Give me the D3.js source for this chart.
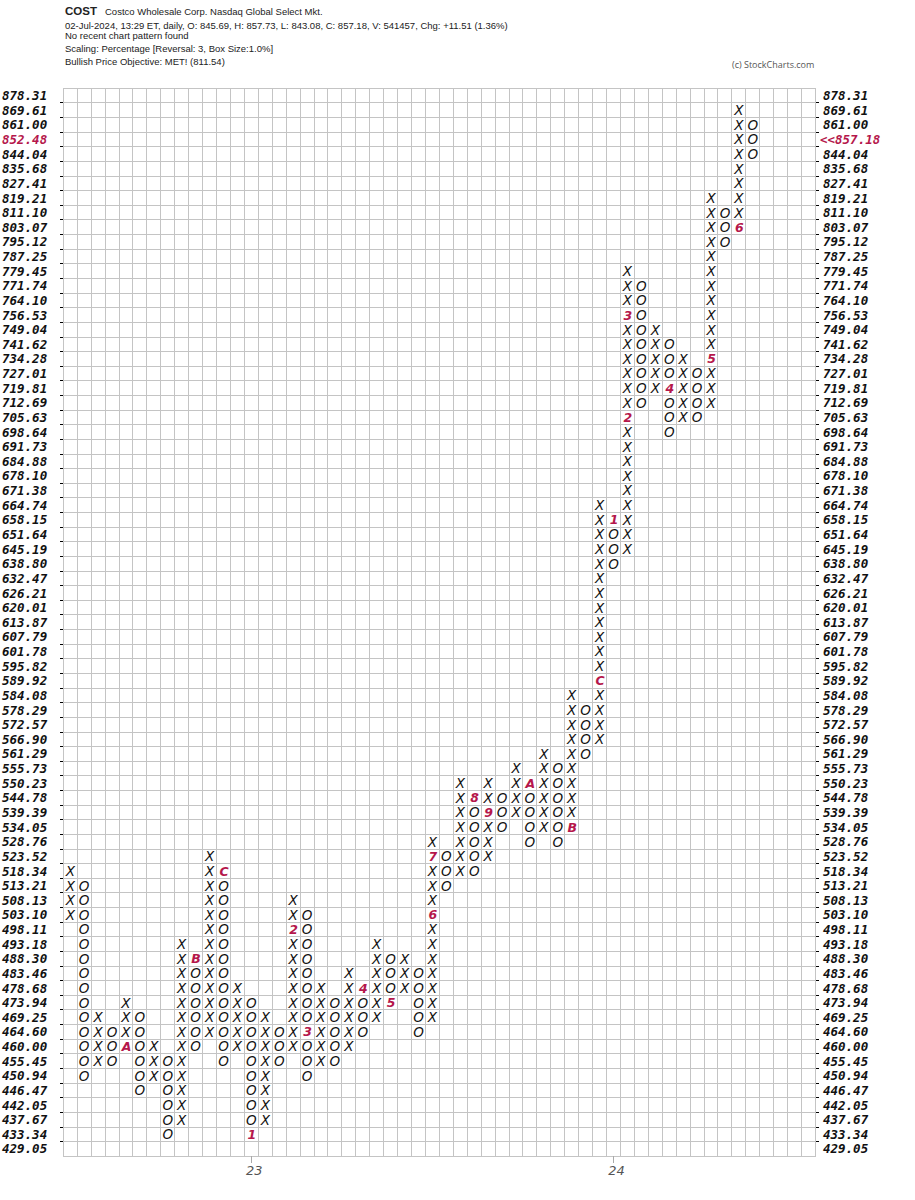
<!DOCTYPE html>
<html>
<head>
<meta charset="utf-8">
<script src="https://cdn.jsdelivr.net/npm/d3@7"></script>
<style>
  html, body { margin: 0; padding: 0; background: #fff; }
  svg { display: block; }
</style>
</head>
<body>
<svg id="chart" width="915" height="1200"></svg>
<script>
// ---------- DATA ----------
const priceLevels = [
  878.31, 869.61, 861.00, 852.48, 844.04, 835.68, 827.41, 819.21, 811.10, 803.07,
  795.12, 787.25, 779.45, 771.74, 764.10, 756.53, 749.04, 741.62, 734.28, 727.01,
  719.81, 712.69, 705.63, 698.64, 691.73, 684.88, 678.10, 671.38, 664.74, 658.15,
  651.64, 645.19, 638.80, 632.47, 626.21, 620.01, 613.87, 607.79, 601.78, 595.82,
  589.92, 584.08, 578.29, 572.57, 566.90, 561.29, 555.73, 550.23, 544.78, 539.39,
  534.05, 528.76, 523.52, 518.34, 513.21, 508.13, 503.10, 498.11, 493.18, 488.30,
  483.46, 478.68, 473.94, 469.25, 464.60, 460.00, 455.45, 450.94, 446.47, 442.05,
  437.67, 433.34, 429.05
];

// one entry per P&F column
const columnTypes = ["X","O","X","O","X","O","X","O","X","O",
                     "X","O","X","O","X","O","X","O","X","O",
                     "X","O","X","O","X","O","X","O","X","O",
                     "X","O","X","O","X","O","X","O","X","O",
                     "X","O","X","O","X","O","X","O","X","O"];
const columnLow  = [503.10, 450.94, 455.45, 455.45, 460.00, 446.47, 450.94, 433.34, 437.67, 460.00,
                    464.60, 455.45, 460.00, 433.34, 437.67, 455.45, 460.00, 450.94, 455.45, 455.45,
                    460.00, 464.60, 469.25, 473.94, 478.68, 464.60, 469.25, 513.21, 518.34, 518.34,
                    523.52, 534.05, 539.39, 528.76, 534.05, 528.76, 534.05, 561.29, 566.90, 638.80,
                    645.19, 712.69, 719.81, 698.64, 705.63, 705.63, 712.69, 795.12, 803.07, 844.04];
const columnHigh = [518.34, 513.21, 469.25, 464.60, 473.94, 469.25, 460.00, 455.45, 493.18, 488.30,
                    523.52, 518.34, 478.68, 473.94, 469.25, 464.60, 508.13, 503.10, 478.68, 473.94,
                    483.46, 478.68, 493.18, 488.30, 488.30, 483.46, 528.76, 523.52, 550.23, 544.78,
                    550.23, 544.78, 555.73, 550.23, 561.29, 555.73, 584.08, 578.29, 664.74, 658.15,
                    779.45, 771.74, 749.04, 741.62, 734.28, 727.01, 819.21, 811.10, 869.61, 861.00];

// month markers (replace a box with month code)
const markColumns = [4, 9, 11, 13, 16, 17, 21, 23, 26, 26, 29, 30, 33, 36, 38, 39, 40, 40, 43, 46, 48];
const markPrices  = [460.00, 488.30, 518.34, 433.34, 498.11, 464.60, 478.68, 473.94, 503.10, 523.52,
                     544.78, 539.39, 550.23, 534.05, 589.92, 658.15, 705.63, 756.53, 719.81, 734.28, 803.07];
const markLabels  = ["A","B","C","1","2","3","4","5","6","7","8","9","A","B","C","1","2","3","4","5","6"];

// year ticks on the x axis
const yearColumns = [13, 39];
const yearLabels  = ["23", "24"];

const lastPriceLevel = 852.48;
const lastPriceText = "<<857.18";

const headerLines = [
  "02-Jul-2024, 13:29 ET, daily, O: 845.69, H: 857.73, L: 843.08, C: 857.18, V: 541457, Chg: +11.51 (1.36%)",
  "No recent chart pattern found",
  "Scaling: Percentage [Reversal: 3, Box Size:1.0%]",
  "Bullish Price Objective: MET! (811.54)"
];

// ---------- LAYOUT ----------
const nCols = 54;
const gridLeft = 63.3, gridRight = 815.5, gridTop = 88.3, gridBottom = 1156.3;
const RED = "#b5174b";

const svg = d3.select("#chart");

const x = d3.scaleBand().domain(d3.range(nCols)).range([gridLeft, gridRight]).paddingInner(0).paddingOuter(0);
const y = d3.scaleBand().domain(priceLevels).range([gridTop, gridBottom]).paddingInner(0).paddingOuter(0);
const cx = i => x(i) + x.bandwidth() / 2;
const cy = p => y(p) + y.bandwidth() / 2;

// ---------- GRID ----------
const grid = svg.append("g").attr("shape-rendering", "crispEdges");
const vLines = d3.range(nCols + 1).map(i => gridLeft + i * x.bandwidth());
const hLines = d3.range(priceLevels.length + 1).map(i => gridTop + i * y.bandwidth());

grid.selectAll("line.v").data(vLines).join("line")
  .attr("x1", d => d).attr("x2", d => d)
  .attr("y1", gridTop).attr("y2", gridBottom)
  .attr("stroke", "#c4c4c4").attr("stroke-width", 1);
grid.selectAll("line.h").data(hLines).join("line")
  .attr("x1", gridLeft).attr("x2", gridRight)
  .attr("y1", d => d).attr("y2", d => d)
  .attr("stroke", "#c4c4c4").attr("stroke-width", 1);

// small axis ticks at row boundaries
const tickRows = hLines.slice(1, -1);
grid.selectAll("line.tl").data(tickRows).join("line")
  .attr("x1", gridLeft - 3).attr("x2", gridLeft)
  .attr("y1", d => d).attr("y2", d => d)
  .attr("stroke", "#000");
grid.selectAll("line.tr").data(tickRows).join("line")
  .attr("x1", gridRight).attr("x2", gridRight + 3)
  .attr("y1", d => d).attr("y2", d => d)
  .attr("stroke", "#000");

// ---------- PRICE LABELS ----------
const labelFont = "'DejaVu Sans Mono', monospace";
svg.append("g").selectAll("text").data(priceLevels).join("text")
  .attr("x", 2).attr("y", d => cy(d)).attr("dy", "0.36em")
  .attr("font-family", labelFont).attr("font-weight", "bold").attr("font-style", "italic")
  .attr("font-size", 12.5)
  .attr("fill", d => d === lastPriceLevel ? RED : "#111")
  .text(d => d.toFixed(2));

svg.append("g").selectAll("text").data(priceLevels).join("text")
  .attr("x", d => d === lastPriceLevel ? 820 : 823).attr("y", d => cy(d)).attr("dy", "0.36em")
  .attr("font-family", labelFont).attr("font-weight", "bold").attr("font-style", "italic")
  .attr("font-size", 12.5)
  .attr("fill", d => d === lastPriceLevel ? RED : "#111")
  .text(d => d === lastPriceLevel ? lastPriceText : d.toFixed(2));

// ---------- X / O BOXES ----------
const markKey = new Set(markColumns.map((c, i) => c + "|" + markPrices[i]));
const boxes = [];
columnTypes.forEach((t, i) => {
  const hiIdx = priceLevels.indexOf(columnHigh[i]);
  const loIdx = priceLevels.indexOf(columnLow[i]);
  for (let k = hiIdx; k <= loIdx; k++) {
    const p = priceLevels[k];
    if (!markKey.has(i + "|" + p)) boxes.push({ col: i, price: p, t });
  }
});

svg.append("g").selectAll("text").data(boxes).join("text")
  .attr("x", d => cx(d.col)).attr("y", d => cy(d.price)).attr("dy", "0.36em")
  .attr("text-anchor", "middle")
  .attr("font-family", "'DejaVu Sans', sans-serif").attr("font-style", "italic")
  .attr("font-size", 13.5).attr("fill", "#111")
  .text(d => d.t);

const marks = markColumns.map((c, i) => ({ col: c, price: markPrices[i], label: markLabels[i] }));
svg.append("g").selectAll("text").data(marks).join("text")
  .attr("x", d => cx(d.col) + 0.5).attr("y", d => cy(d.price)).attr("dy", "0.36em")
  .attr("text-anchor", "middle")
  .attr("font-family", "'DejaVu Sans', sans-serif").attr("font-style", "italic").attr("font-weight", "bold")
  .attr("font-size", 12.5).attr("fill", RED)
  .text(d => d.label);

// ---------- X AXIS (years) ----------
const yearG = svg.append("g");
yearColumns.forEach((c, i) => {
  yearG.append("line")
    .attr("x1", cx(c)).attr("x2", cx(c))
    .attr("y1", gridBottom).attr("y2", gridBottom + 7)
    .attr("stroke", "#aaa").attr("shape-rendering", "crispEdges");
  yearG.append("text")
    .attr("x", cx(c) + 3).attr("y", gridBottom + 19)
    .attr("text-anchor", "middle")
    .attr("font-family", "'DejaVu Sans', sans-serif").attr("font-style", "italic")
    .attr("font-size", 13).attr("fill", "#555")
    .text(yearLabels[i]);
});

// ---------- HEADER ----------
const hdr = svg.append("g").attr("font-family", "'Liberation Sans', Arial, sans-serif").attr("fill", "#222");
hdr.append("text").attr("x", 65).attr("y", 15).attr("font-weight", "bold").attr("font-size", 11.5).text("COST");
hdr.append("text").attr("x", 105).attr("y", 15).attr("font-size", 9.5).text("Costco Wholesale Corp.  Nasdaq Global Select Mkt.");
const hdrY = [28.5, 38.8, 52, 65.3];
headerLines.forEach((t, i) => {
  hdr.append("text").attr("x", 65).attr("y", hdrY[i]).attr("font-size", 9.5).text(t);
});
svg.append("text").attr("x", 732).attr("y", 67.5)
  .attr("font-family", "'Open Sans', 'DejaVu Sans', sans-serif").attr("font-size", 9)
  .attr("fill", "#555").text("(c) StockCharts.com");
</script>
</body>
</html>
